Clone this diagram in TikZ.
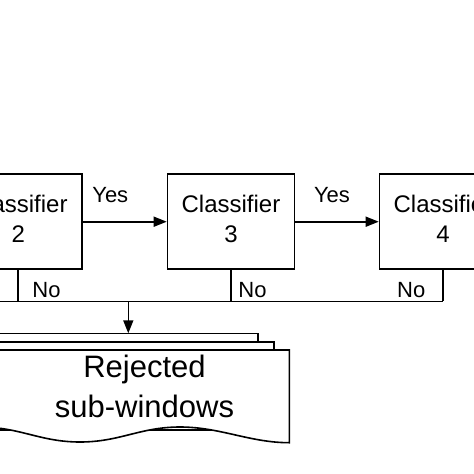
\documentclass[tikz,border=0pt]{standalone}
\usepackage{fontspec}
\setmainfont{Liberation Sans}
\usetikzlibrary{arrows.meta}

\begin{document}
\begin{tikzpicture}[
            x=1pt, y=-1pt,
            line width=1.6pt,
            classbox/.style={draw,rectangle,minimum width=127pt,minimum height=95pt,
                align=center,inner sep=0pt,text depth=6pt,font=\fontsize{24}{30}\selectfont},
            lbl/.style={inner sep=0pt,font=\fontsize{22}{26}\selectfont},
            sheet/.style={draw,fill=white},
            >={Triangle[length=13pt,width=10pt]}
            ]
            \useasboundingbox (0,0) rectangle (474,474);
            \fill[white] (0,0) rectangle (474,474);
            \clip (0,0) rectangle (474,474);
            % classifier stages
            \node[classbox] (c2) at (18.2, 221.7) {Classifier\\2};
            \node[classbox] (c3) at (231, 221.7) {Classifier\\3};
            \node[classbox] (c4) at (443, 221.7) {Classifier\\4};
            \draw[->] (c2) -- node[lbl,pos=0.33,above=18.5pt] (yes2) {Yes} (c3);
            \draw[->] (c3) -- node[lbl,pos=0.44,above=18.5pt] (yes3) {Yes} (c4);
            % rejection bus
            \coordinate (busl) at (-60, 301.3);
            \coordinate (drop) at (128.3, 301.3);
            \draw (c2) -- (c2 |- busl);
            \draw (c3) -- (c3 |- busl);
            \draw (c4) -- (c4 |- busl);
            \draw (busl) -- (c4 |- busl);
            \node[lbl] (no2) at (46.5, 289.8) {No};
            \node[lbl] (no3) at (252.5, 289.8) {No};
            \node[lbl] (no4) at (411.3, 289.8) {No};
            % stack of rejected sheets
            \draw[sheet] (-60,333.3) -- (257.7,333.3) -- (257.7,420) -- (-60,420) -- cycle;
            \draw[sheet] (-60,341.7) -- (274,341.7) -- (274,430) -- (-60,430) -- cycle;
            \draw[sheet] (-60,350) -- (289.3,350) -- (289.3,442.7)
                .. controls (250,442.7) and (220,427) .. (180,427)
                .. controls (140,427) and (120,442) .. (80,442)
                .. controls (40,442) and (20,427) .. (-20,427)
                .. controls (-40,427) and (-50,432) .. (-60,435) -- cycle;
            \coordinate (sheettop) at (128.3, 333.3);
            \draw[->] (drop) -- (sheettop);
            \node[align=center,inner sep=0pt,font=\fontsize{31}{40}\selectfont] (rej) at (144.5, 386.7) {Rejected\\sub-windows};
        \end{tikzpicture}
\end{document}
